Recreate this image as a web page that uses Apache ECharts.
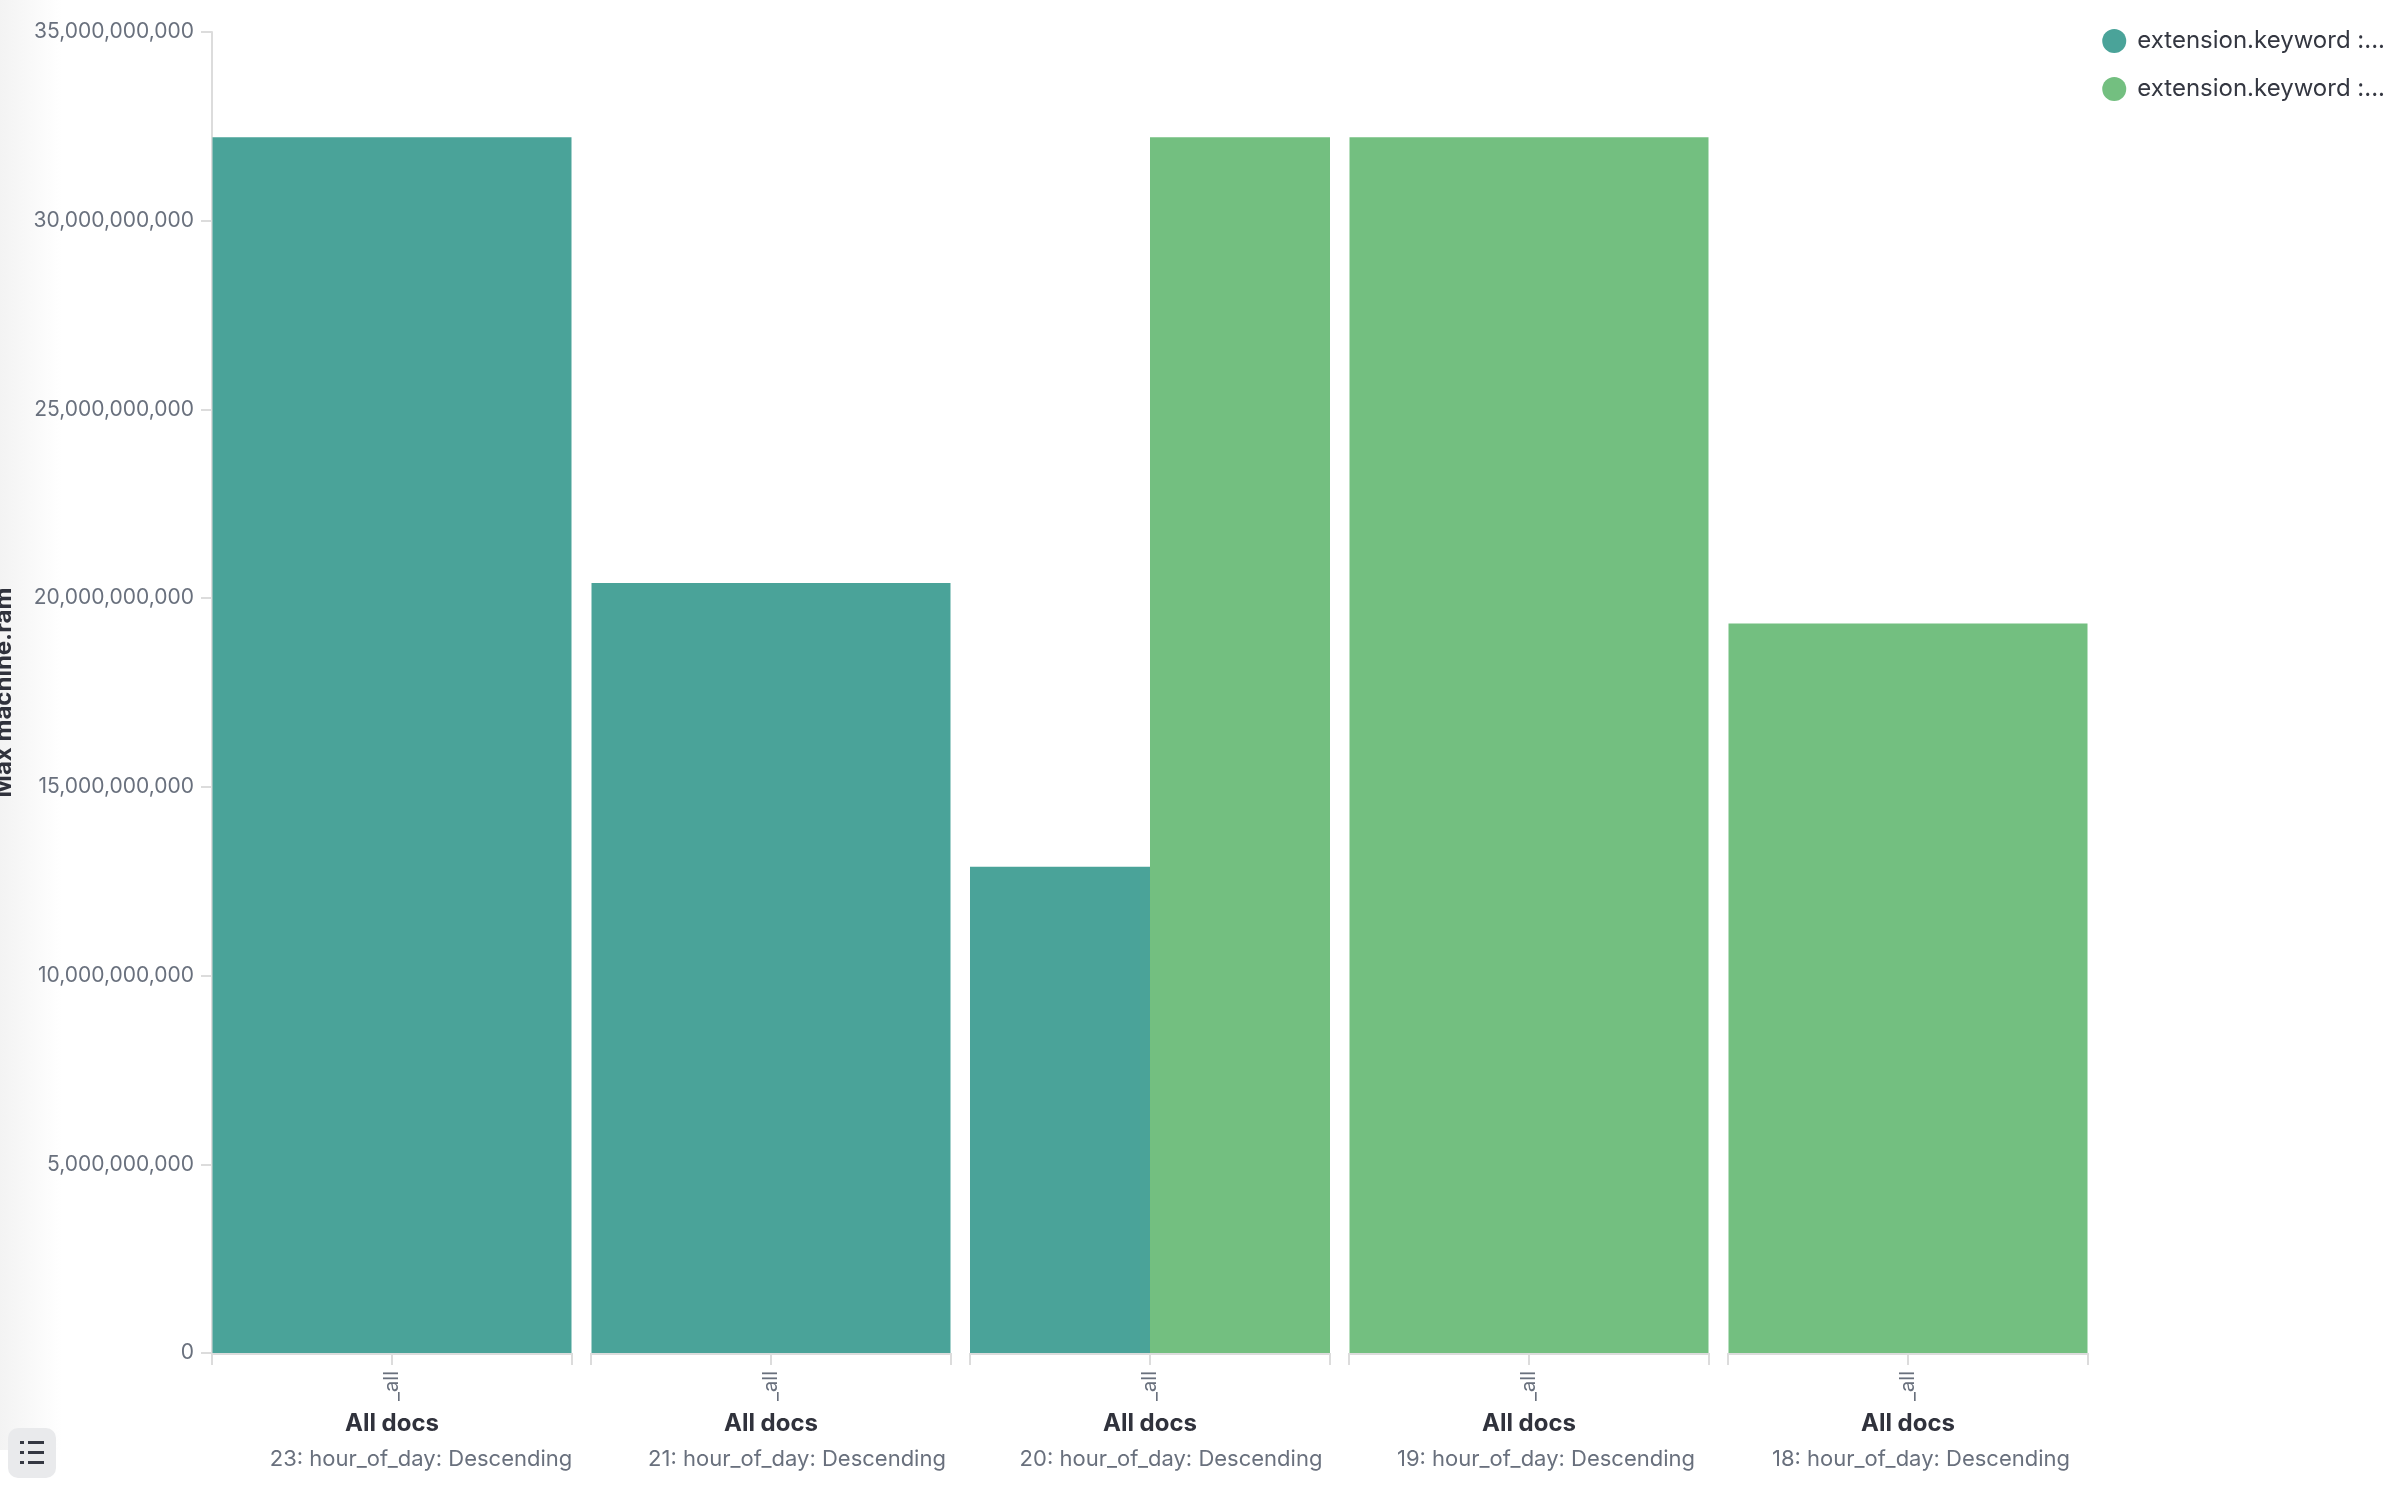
<!DOCTYPE html>
<html><head><meta charset="utf-8">
<style>html,body{margin:0;padding:0;background:#fff}#c{width:2398px;height:1502px}</style>
<script src="https://cdn.jsdelivr.net/npm/echarts@6/dist/echarts.min.js"></script>
</head><body><div id="c"></div>
<script>
const hours = ['23','21','20','19','18'];
const subLabels = ['23: hour_of_day: Descending','21: hour_of_day: Descending','20: hour_of_day: Descending','19: hour_of_day: Descending','18: hour_of_day: Descending'];
const tealFull = [32212254720, 20401094656, null, null, null];
const greenFull = [null, null, null, 32212254720, 19327352832];
const tealHalf = [null, null, 12884901888, null, null];
const greenHalf = [null, null, 32212254720, null, null];
const legendName1 = 'extension.keyword : a';
const legendName2 = 'extension.keyword : b';
const subShift = [29, 26, 21, 17, 13];
const TEAL = '#4aa399', GREEN = '#73bf80', LINE = '#dcdcdc', FONT = 'Inter';

const rich = {};
subShift.forEach((s, i) => {
  rich['s' + i] = {fontFamily: FONT, fontSize: 22, color: '#69707d', padding: [0, 0, 0, s * 2]};
});

const chart = echarts.init(document.getElementById('c'), null, {renderer: 'canvas'});
const baseX = {type: 'category', data: hours, position: 'bottom', boundaryGap: true,
  axisLine: {show: false}, axisTick: {show: false}, splitLine: {show: false}};
chart.setOption({
  animation: false,
  backgroundColor: '#fff',
  textStyle: {fontFamily: FONT},
  grid: {left: 202.5, top: 32, width: 1895, height: 1321, containLabel: false, outerBoundsMode: 'none'},
  legend: {
    right: 8, top: 24, orient: 'vertical', itemGap: 24, itemWidth: 24, itemHeight: 24,
    icon: 'circle', data: [legendName1, legendName2],
    formatter: () => 'extension.keyword :...',
    textStyle: {fontFamily: FONT, fontSize: 24, color: '#343741', padding: [0, 0, 0, 6]}
  },
  xAxis: [
    Object.assign({}, baseX, {axisLabel: {interval: 0, rotate: 90, margin: 18, fontFamily: FONT, fontSize: 20, color: '#69707d', formatter: () => '_all'}}),
    Object.assign({}, baseX, {axisLabel: {interval: 0, margin: 59, fontFamily: FONT, fontSize: 24, fontWeight: 700, color: '#30323c', formatter: () => 'All docs'}}),
    Object.assign({}, baseX, {data: subLabels, axisLabel: {interval: 0, margin: 95, rich, formatter: (v, i) => '{s' + i + '|' + v + '}'}})
  ],
  yAxis: {
    type: 'value', min: 0, max: 35000000000, interval: 5000000000, offset: -9.5,
    name: 'Max machine.ram', nameLocation: 'middle', nameGap: 196,
    nameTextStyle: {fontFamily: FONT, fontSize: 24, fontWeight: 700, color: '#30323c'},
    axisLine: {show: true, lineStyle: {color: LINE, width: 2}},
    axisTick: {show: true, length: 11, lineStyle: {color: LINE, width: 2}},
    splitLine: {show: false},
    axisLabel: {margin: 18, fontFamily: FONT, fontSize: 21, color: '#69707d',
      formatter: v => v.toLocaleString('en-US')}
  },
  series: [
    {name: legendName1, type: 'bar', xAxisIndex: 0, data: tealFull, barWidth: 359, barGap: '-100%', itemStyle: {color: TEAL}},
    {name: legendName2, type: 'bar', xAxisIndex: 0, data: greenFull, barWidth: 359, barGap: '-100%', itemStyle: {color: GREEN}},
    {name: legendName1, type: 'bar', xAxisIndex: 1, data: tealHalf, barWidth: 180, barGap: 0, itemStyle: {color: TEAL}},
    {name: legendName2, type: 'bar', xAxisIndex: 1, data: greenHalf, barWidth: 180, barGap: 0, itemStyle: {color: GREEN}},
    {type: 'custom', xAxisIndex: 0, silent: true, z: 5, data: hours.map((h, i) => [i]),
      encode: {x: 0},
      renderItem: (params, api) => {
        const c = api.coord([api.value(0), 0]);
        const hw = 180, y = c[1];
        const st = {stroke: LINE, lineWidth: 2};
        const seg = (x1, y1, x2, y2) => ({type: 'line', shape: {x1, y1, x2, y2}, style: st});
        return {type: 'group', children: [
          seg(c[0] - hw, y + 1, c[0] + hw, y + 1),
          seg(c[0] - hw, y, c[0] - hw, y + 12),
          seg(c[0], y, c[0], y + 12),
          seg(c[0] + hw, y, c[0] + hw, y + 12)
        ]};
      }}
  ],
  graphic: [
    {type: 'rect', z: -10, left: 0, top: 0, shape: {width: 62, height: 1450},
      style: {fill: new echarts.graphic.LinearGradient(0, 0, 1, 0, [
        {offset: 0, color: '#f3f3f3'}, {offset: 1, color: '#ffffff'}])}},
    {type: 'rect', left: 8, top: 1428, shape: {width: 48, height: 50, r: 10}, style: {fill: '#e9eaec'}},
    {type: 'group', left: 20, top: 1441, children: [0, 10, 20].flatMap(y => [
      {type: 'rect', shape: {x: 0, y, width: 4, height: 3}, style: {fill: '#343741'}},
      {type: 'rect', shape: {x: 8, y, width: 16, height: 3}, style: {fill: '#343741'}}
    ])}
  ]
});
</script></body></html>
